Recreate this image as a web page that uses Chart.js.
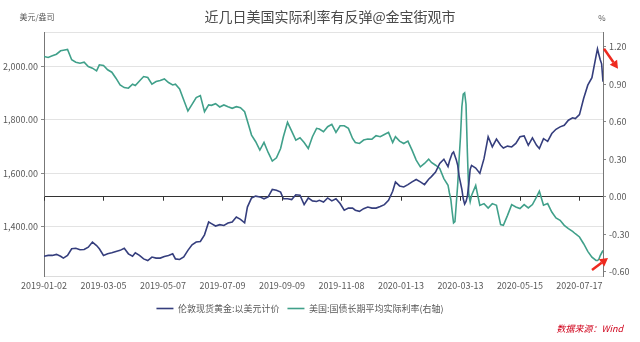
<!DOCTYPE html>
<html>
<head>
<meta charset="utf-8">
<script src="https://cdn.jsdelivr.net/npm/chart.js@4"></script>
<style>
  html, body { margin: 0; padding: 0; background: #fff; }
  #wrap { width: 640px; height: 342px; }
</style>
</head>
<body>
<div id="wrap"><canvas id="goldChart"></canvas></div>
<script>
// trading-day index since 2019-01-02
const dayIndex = [
  0, 3, 6, 9, 12, 14, 17, 20, 23, 26, 29, 32, 35, 38, 40, 43, 46, 49, 52, 55,
  58, 61, 64, 66, 69, 72, 75, 78, 81, 84, 87, 90, 93, 95, 98, 101, 104, 107, 110, 113,
  116, 119, 121, 124, 127, 130, 133, 136, 139, 142, 145, 147, 150, 153, 156, 159, 162, 165, 168, 171,
  173, 176, 179, 182, 185, 188, 191, 194, 197, 199, 202, 205, 208, 211, 214, 217, 220, 223, 225, 228,
  231, 234, 237, 240, 243, 246, 249, 252, 254, 257, 260, 263, 266, 269, 272, 275, 278, 280, 283, 286,
  289, 292,
  293, 294, 295, 296, 297, 298, 299, 300, 301, 302, 303, 304, 305, 306, 307, 308, 309,
  312, 315, 318, 321, 324, 327, 330, 332, 335, 338, 341, 344, 347, 350, 353, 356, 358, 361, 364, 367,
  370, 373, 376, 379, 382, 384, 387, 390, 393, 396,
  399, 400, 401, 402, 403, 404
];

const goldPrice = [
  1290, 1293, 1293, 1297, 1290, 1283, 1293, 1318, 1320, 1314,
  1315, 1324, 1343, 1330, 1318, 1293, 1299, 1303, 1308, 1312,
  1320, 1299, 1290, 1303, 1293, 1280, 1274, 1287, 1283, 1283,
  1289, 1293, 1299, 1280, 1278, 1287, 1312, 1333, 1343, 1345,
  1370, 1418, 1412, 1403, 1408, 1405, 1414, 1418, 1437, 1428,
  1415, 1474, 1508, 1515, 1512, 1505, 1512, 1540, 1537, 1530,
  1505, 1505, 1502, 1520, 1518, 1483, 1508, 1497, 1495, 1499,
  1493, 1508, 1497, 1505, 1487, 1462, 1470, 1470, 1462, 1458,
  1468, 1474, 1470, 1470, 1476, 1483, 1499, 1533, 1568, 1553,
  1549, 1558, 1568, 1577, 1568, 1558, 1578, 1588, 1605, 1637,
  1653, 1625,
  1645, 1660, 1675, 1680, 1665, 1650, 1630, 1590, 1565, 1540, 1505, 1485, 1495, 1515, 1560, 1615, 1630,
  1620, 1600, 1655, 1737, 1699, 1728, 1705, 1695, 1702, 1699,
  1712, 1737, 1740, 1705, 1733, 1705, 1693, 1730, 1720, 1749,
  1765, 1774, 1780, 1799, 1808, 1805, 1820, 1880, 1930, 1958,
  2040, 2066, 2045, 2025, 2010, 1943
];

const realRate = [
  1.122, 1.114, 1.127, 1.140, 1.167, 1.172, 1.178, 1.095, 1.076, 1.068,
  1.076, 1.041, 1.028, 1.006, 1.055, 1.049, 1.015, 0.996, 0.948, 0.894,
  0.873, 0.868, 0.900, 0.889, 0.926, 0.961, 0.953, 0.900, 0.921, 0.929,
  0.942, 0.913, 0.894, 0.900, 0.862, 0.774, 0.686, 0.739, 0.793, 0.809,
  0.680, 0.734, 0.731, 0.744, 0.718, 0.734, 0.720, 0.707, 0.720, 0.712,
  0.680, 0.605, 0.493, 0.440, 0.373, 0.434, 0.354, 0.285, 0.311, 0.386,
  0.480, 0.595, 0.525, 0.453, 0.472, 0.434, 0.386, 0.480, 0.547, 0.541,
  0.520, 0.560, 0.579, 0.515, 0.568, 0.568, 0.547, 0.466, 0.434, 0.426,
  0.453, 0.461, 0.460, 0.488, 0.480, 0.498, 0.515, 0.434, 0.480, 0.445,
  0.426, 0.445, 0.373, 0.293, 0.239, 0.266, 0.301, 0.274, 0.252, 0.226,
  0.145, 0.092,
  0.03, -0.02, -0.12, -0.21, -0.20, -0.05, 0.10, 0.30, 0.48, 0.72, 0.82, 0.83, 0.74, 0.35, 0.02, -0.04, 0.01,
  0.09, -0.07, -0.055, -0.090, -0.055, -0.068, -0.223, -0.229, -0.149, -0.063,
  -0.082, -0.095, -0.063, -0.090, -0.063, -0.001, 0.044, -0.068, -0.055, -0.122,
  -0.170, -0.189, -0.229, -0.255, -0.277, -0.296, -0.322, -0.376, -0.437, -0.483,
  -0.51, -0.51, -0.50, -0.47, -0.45, -0.43
];

const tickDays = [0, 43, 86, 129, 172, 215, 258, 301, 344, 387];
const tickLabels = [
  '2019-01-02', '2019-03-05', '2019-05-07', '2019-07-09', '2019-09-09',
  '2019-11-08', '2020-01-13', '2020-03-13', '2020-05-15', '2020-07-17'
];
const goldTicks = [1400, 1600, 1800, 2000];
const rateTicks = [-0.6, -0.3, 0, 0.3, 0.6, 0.9, 1.2];

const GOLD_MIN = 1216, GOLD_MAX = 2126;
const RATE_MIN = -0.634, RATE_MAX = 1.311;

const FONT = "'Noto Sans CJK SC', 'Noto Sans', sans-serif";
const TEXT = '#595959';
const money = new Intl.NumberFormat('en-US', { minimumFractionDigits: 2, maximumFractionDigits: 2 });

function drawArrow(c, x1, y1, x2, y2) {
  const a = Math.atan2(y2 - y1, x2 - x1);
  const len = 8, half = 4.5;
  c.beginPath();
  c.moveTo(x1, y1);
  c.lineTo(x2 - len * Math.cos(a), y2 - len * Math.sin(a));
  c.stroke();
  c.beginPath();
  c.moveTo(x2, y2);
  c.lineTo(x2 - len * Math.cos(a) + half * Math.sin(a), y2 - len * Math.sin(a) - half * Math.cos(a));
  c.lineTo(x2 - len * Math.cos(a) - half * Math.sin(a), y2 - len * Math.sin(a) + half * Math.cos(a));
  c.closePath();
  c.fill();
}

// small ticks on the zero line, unit captions, source note and arrows
const extras = {
  id: 'extras',
  afterLayout(chart) {
    // title sits a little right of centre, legend a little left
    chart.titleBlock.left += 10;
    chart.titleBlock.right += 10;
    chart.legend.left -= 20;
    chart.legend.right -= 20;
  },
  afterDatasetsDraw(chart) {
    const c = chart.ctx;
    const x = chart.scales.x;
    const y0 = chart.scales.rate.getPixelForValue(0);
    c.save();
    c.strokeStyle = '#333';
    c.lineWidth = 1;
    tickDays.forEach(d => {
      const px = Math.round(x.getPixelForValue(d)) + 0.5;
      c.beginPath();
      c.moveTo(px, y0);
      c.lineTo(px, y0 + 4);
      c.stroke();
    });
    c.restore();
  },
  afterDraw(chart) {
    const c = chart.ctx;
    const area = chart.chartArea;
    c.save();
    c.fillStyle = TEXT;
    c.font = '8px ' + FONT;
    c.textBaseline = 'middle';
    c.textAlign = 'center';
    c.fillText('美元/盎司', 37, 17);
    c.fillText('%', 602, 18);

    c.fillStyle = '#d0021b';
    c.font = 'italic 9px ' + FONT;
    c.textAlign = 'right';
    c.fillText('数据来源：Wind', 623, 329);

    c.strokeStyle = '#ee2a1f';
    c.fillStyle = '#ee2a1f';
    c.lineWidth = 2.5;
    drawArrow(c, area.right + 1, area.top + 16, area.right + 15, area.top + 36);
    drawArrow(c, area.right - 11, area.bottom - 6, area.right + 5, area.bottom - 18);
    c.restore();
  }
};

new Chart(document.getElementById('goldChart'), {
  type: 'line',
  data: {
    datasets: [
      {
        label: '伦敦现货黄金:以美元计价',
        data: dayIndex.map((d, i) => ({ x: d, y: goldPrice[i] })),
        yAxisID: 'gold',
        borderColor: '#353e7d',
        backgroundColor: '#353e7d',
        borderWidth: 1.6,
        pointRadius: 0,
        tension: 0
      },
      {
        label: '美国:国债长期平均实际利率(右轴)',
        data: dayIndex.map((d, i) => ({ x: d, y: realRate[i] })),
        yAxisID: 'rate',
        borderColor: '#40a08a',
        backgroundColor: '#40a08a',
        borderWidth: 1.6,
        pointRadius: 0,
        tension: 0
      }
    ]
  },
  options: {
    responsive: true,
    maintainAspectRatio: false,
    animation: false,
    layout: { padding: { left: 0, right: 0, top: 0, bottom: 19 } },
    plugins: {
      title: {
        display: true,
        text: '近几日美国实际利率有反弹@金宝街观市',
        color: '#4a4a4a',
        font: { family: FONT, size: 14, weight: 'normal' },
        padding: { top: 8, bottom: 8 }
      },
      legend: {
        position: 'bottom',
        labels: {
          color: TEXT,
          font: { family: FONT, size: 9 },
          usePointStyle: true,
          pointStyle: 'line',
          pointStyleWidth: 17,
          padding: 8
        }
      },
      tooltip: { enabled: false }
    },
    scales: {
      x: {
        type: 'linear',
        min: 0,
        max: 404,
        afterBuildTicks: s => { s.ticks = tickDays.map(v => ({ value: v })); },
        afterFit: s => { s.height = 20; },
        ticks: {
          autoSkip: false,
          maxRotation: 0,
          padding: 4,
          color: TEXT,
          font: { family: FONT, size: 9 },
          callback: v => tickLabels[tickDays.indexOf(v)]
        },
        grid: { drawOnChartArea: false, drawTicks: false },
        border: { color: '#dcdcdc' }
      },
      gold: {
        position: 'left',
        min: GOLD_MIN,
        max: GOLD_MAX,
        afterBuildTicks: s => { s.ticks = goldTicks.concat([GOLD_MAX]).map(v => ({ value: v })); },
        afterFit: s => { s.width = 44; },
        ticks: {
          padding: 3,
          color: TEXT,
          font: { family: FONT, size: 9 },
          callback: v => (v === GOLD_MAX ? '' : money.format(v))
        },
        grid: {
          color: '#e3e3e3',
          tickLength: 3,
          tickColor: ctx => (ctx.tick && ctx.tick.value === GOLD_MAX ? 'transparent' : '#888')
        },
        border: { color: '#777' }
      },
      rate: {
        position: 'right',
        min: RATE_MIN,
        max: RATE_MAX,
        afterBuildTicks: s => { s.ticks = rateTicks.map(v => ({ value: v })); },
        afterFit: s => { s.width = 37; },
        ticks: {
          padding: 3,
          color: TEXT,
          font: { family: FONT, size: 9 },
          callback: v => v.toFixed(2)
        },
        grid: {
          color: ctx => (ctx.tick && ctx.tick.value === 0 ? '#333' : 'transparent'),
          tickLength: 3,
          tickColor: '#888'
        },
        border: { color: '#777' }
      }
    }
  },
  plugins: [extras]
});
</script>
</body>
</html>
